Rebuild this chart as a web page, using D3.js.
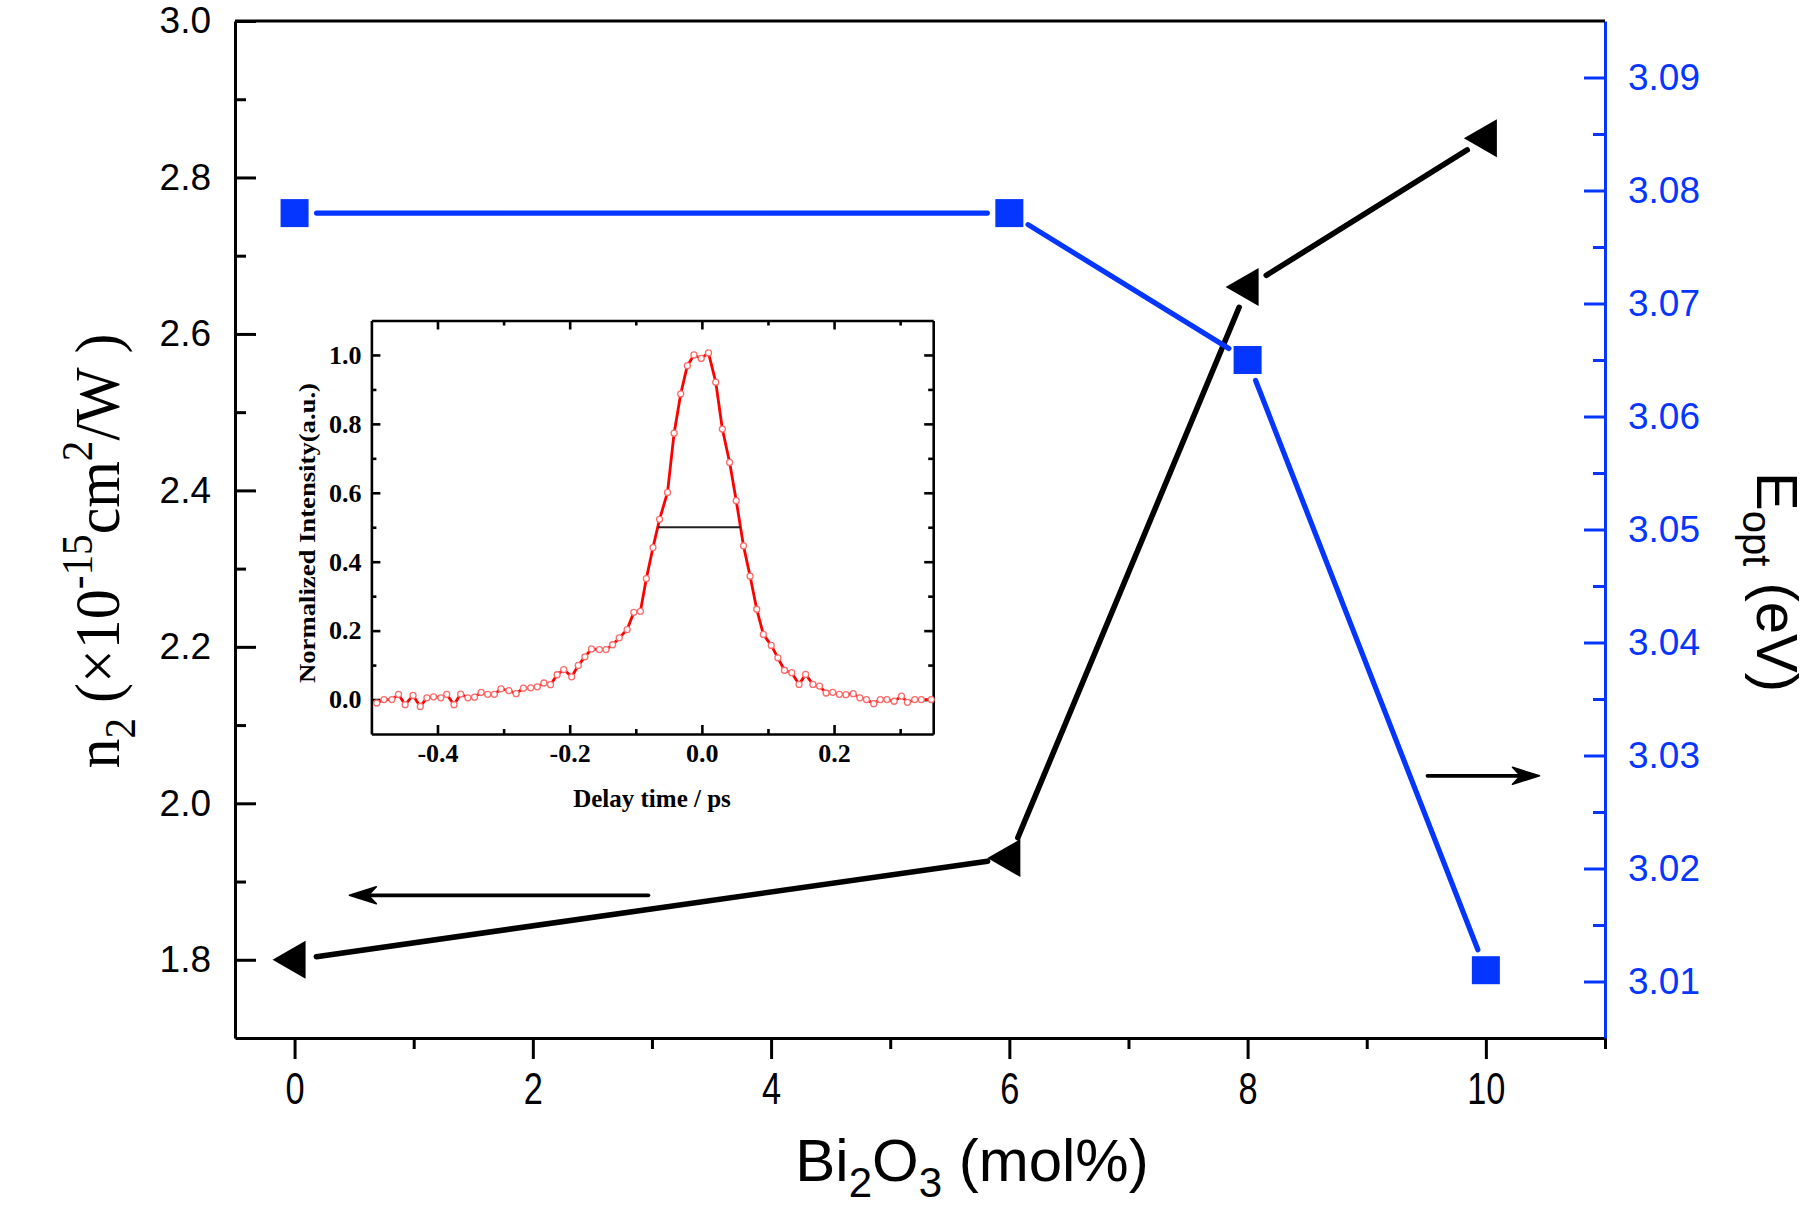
<!DOCTYPE html>
<html><head><meta charset="utf-8">
<script src="https://cdn.jsdelivr.net/npm/d3@7"></script>
<style>html,body{margin:0;padding:0;background:#fff;}svg{display:block;}</style>
</head><body>
<script>
// ---------- data ----------
const bi2o3 = [0, 6, 8, 10];
const n2Values = [1.80, 1.93, 2.66, 2.85];
const eoptValues = [3.078, 3.078, 3.065, 3.011];
const xMajorTicks = [0, 2, 4, 6, 8, 10];
const xMinorTicks = [1, 3, 5, 7, 9, 11];
const leftMajorTicks = [1.8, 2.0, 2.2, 2.4, 2.6, 2.8, 3.0];
const leftMinorTicks = [1.9, 2.1, 2.3, 2.5, 2.7, 2.9];
const rightMajorTicks = [3.01, 3.02, 3.03, 3.04, 3.05, 3.06, 3.07, 3.08, 3.09];
const rightMinorTicks = [3.015, 3.025, 3.035, 3.045, 3.055, 3.065, 3.075, 3.085];
// arrows pointing to the axis of each series (data units)
const leftArrow = {x1: 2.97, x2: 0.46, y: 1.8824};
const rightArrow = {x1: 9.51, x2: 10.45, y: 3.0282};

// inset: autocorrelation trace
const delayTime = [-0.492,-0.481,-0.469,-0.459,-0.449,-0.437,-0.426,-0.416,-0.406,-0.395,-0.386,-0.375,-0.365,-0.354,-0.344,-0.334,-0.324,-0.314,-0.304,-0.292,-0.281,-0.270,-0.259,-0.249,-0.239,-0.229,-0.219,-0.209,-0.197,-0.187,-0.177,-0.167,-0.155,-0.145,-0.135,-0.125,-0.113,-0.103,-0.093,-0.084,-0.074,-0.064,-0.052,-0.042,-0.032,-0.022,-0.012,-0.001,0.010,0.021,0.031,0.042,0.052,0.063,0.073,0.083,0.093,0.105,0.115,0.125,0.136,0.147,0.157,0.168,0.178,0.188,0.198,0.208,0.218,0.229,0.239,0.249,0.260,0.270,0.280,0.291,0.302,0.311,0.322,0.332,0.347];
const intensity = [-0.010,0.000,0.000,0.015,-0.015,0.012,-0.020,0.005,0.008,0.005,0.015,-0.015,0.016,0.005,0.007,0.021,0.015,0.015,0.031,0.026,0.017,0.033,0.034,0.037,0.048,0.043,0.072,0.087,0.066,0.099,0.124,0.147,0.145,0.145,0.159,0.179,0.203,0.253,0.256,0.351,0.441,0.523,0.601,0.773,0.887,0.969,1.000,0.990,1.006,0.921,0.785,0.688,0.577,0.446,0.358,0.262,0.189,0.157,0.121,0.085,0.078,0.044,0.073,0.044,0.039,0.019,0.021,0.015,0.014,0.017,0.005,0.000,-0.012,0.000,0.000,-0.005,0.010,-0.008,0.000,0.000,0.000];
const insetXMajor = [-0.4, -0.2, 0.0, 0.2];
const insetXLabels = ["-0.4", "-0.2", "0.0", "0.2"];
const insetXMinor = [-0.3, -0.1, 0.1, 0.3];
const insetYMajor = [0.0, 0.2, 0.4, 0.6, 0.8, 1.0];
const insetYLabels = ["0.0", "0.2", "0.4", "0.6", "0.8", "1.0"];
const insetYMinor = [0.1, 0.3, 0.5, 0.7, 0.9];
const fwhmStart = -0.066, fwhmEnd = 0.058, fwhmLevel = 0.5;

// ---------- layout ----------
const W = 1820, H = 1210;
const BLUE = "#0536ff";
const SANS = "'Liberation Sans', Arial, Helvetica, sans-serif";
const SERIF = "'Liberation Serif', 'Times New Roman', Times, serif";

const svg = d3.select("body").append("svg").attr("width", W).attr("height", H)
  .attr("viewBox", `0 0 ${W} ${H}`);

const x = d3.scaleLinear().domain([-0.5, 11]).range([235, 1605]);
const yL = d3.scaleLinear().domain([1.7, 3.0]).range([1038, 21]);
const yR = d3.scaleLinear().domain([3.005, 3.095]).range([1038, 21]);

// ---------- axes ----------
const gBottom = svg.append("g").attr("transform", `translate(0,${yL.range()[0]})`)
  .call(d3.axisBottom(x).tickValues(xMajorTicks).tickFormat((d, i) => xMajorTicks.map(String)[i])
    .tickSizeInner(21).tickSizeOuter(0).tickPadding(14));
svg.append("g").attr("transform", `translate(0,${yL.range()[0]})`)
  .call(d3.axisBottom(x).tickValues(xMinorTicks).tickFormat("").tickSizeInner(11).tickSizeOuter(0))
  .call(g => g.select(".domain").remove());
gBottom.selectAll("text").attr("font-size", 44).attr("font-family", SANS).attr("fill", "#000")
  .attr("transform", "scale(0.78,1)");

const gLeft = svg.append("g").attr("transform", `translate(${x.range()[0]},0)`)
  .call(d3.axisLeft(yL).tickValues(leftMajorTicks).tickFormat(d3.format(".1f"))
    .tickSizeInner(-21).tickSizeOuter(0).tickPadding(24));
svg.append("g").attr("transform", `translate(${x.range()[0]},0)`)
  .call(d3.axisLeft(yL).tickValues(leftMinorTicks).tickFormat("").tickSizeInner(-11).tickSizeOuter(0))
  .call(g => g.select(".domain").remove());
gLeft.selectAll("text").attr("font-size", 37).attr("font-family", SANS).attr("fill", "#000");

const gRight = svg.append("g").attr("transform", `translate(${x.range()[1]},0)`)
  .call(d3.axisRight(yR).tickValues(rightMajorTicks).tickFormat(d3.format(".2f"))
    .tickSizeInner(-21).tickSizeOuter(0).tickPadding(23));
const gRightMinor = svg.append("g").attr("transform", `translate(${x.range()[1]},0)`)
  .call(d3.axisRight(yR).tickValues(rightMinorTicks).tickFormat("").tickSizeInner(-12).tickSizeOuter(0));
gRightMinor.select(".domain").remove();
gRight.selectAll("text").attr("font-size", 37).attr("font-family", SANS).attr("fill", BLUE);
gRight.selectAll("line").attr("stroke", BLUE);
gRightMinor.selectAll("line").attr("stroke", BLUE);
gRight.select(".domain").attr("stroke", BLUE);

// top frame line
svg.append("line").attr("x1", x.range()[0]).attr("x2", x.range()[1])
  .attr("y1", yL.range()[1]).attr("y2", yL.range()[1]).attr("stroke", "#000");

svg.selectAll(".domain").attr("stroke-width", 3);
svg.selectAll(".tick line").attr("stroke-width", 3);
svg.selectAll("line").filter(function(){ return !this.closest(".tick"); }).attr("stroke-width", 3);

// ---------- series ----------
function gappedSegments(xs, ys, sy, gap) {
  const pts = xs.map((d, i) => [x(d), sy(ys[i])]);
  const out = [];
  for (let i = 0; i < pts.length - 1; i++) {
    const [x1, y1] = pts[i], [x2, y2] = pts[i + 1];
    const L = Math.hypot(x2 - x1, y2 - y1), ux = (x2 - x1) / L, uy = (y2 - y1) / L;
    out.push([x1 + ux * gap, y1 + uy * gap, x2 - ux * gap, y2 - uy * gap]);
  }
  return out;
}

// n2 (black, left-pointing triangles)
svg.append("g").selectAll("line").data(gappedSegments(bi2o3, n2Values, yL, 22)).join("line")
  .attr("x1", d => d[0]).attr("y1", d => d[1]).attr("x2", d => d[2]).attr("y2", d => d[3])
  .attr("stroke", "#000").attr("stroke-width", 5.6).attr("stroke-linecap", "round");
svg.append("g").selectAll("path").data(bi2o3).join("path")
  .attr("transform", (d, i) => `translate(${x(d)},${yL(n2Values[i])})`)
  .attr("d", "M-22,0 L11,-19 L11,19 Z").attr("fill", "#000");

// Eopt (blue squares)
svg.append("g").selectAll("line").data(gappedSegments(bi2o3, eoptValues, yR, 22)).join("line")
  .attr("x1", d => d[0]).attr("y1", d => d[1]).attr("x2", d => d[2]).attr("y2", d => d[3])
  .attr("stroke", BLUE).attr("stroke-width", 5.2).attr("stroke-linecap", "round");
svg.append("g").selectAll("rect").data(bi2o3).join("rect")
  .attr("x", d => x(d) - 14).attr("y", (d, i) => yR(eoptValues[i]) - 14)
  .attr("width", 28).attr("height", 28).attr("fill", BLUE);

// arrows
function arrow(x1, x2, yPix) {
  const dir = Math.sign(x2 - x1);
  const tip = x(x2);
  svg.append("line").attr("x1", x(x1)).attr("x2", tip - dir * 16).attr("y1", yPix).attr("y2", yPix)
    .attr("stroke", "#000").attr("stroke-width", 3.8).attr("stroke-linecap", "round");
  svg.append("path").attr("transform", `translate(${tip},${yPix}) scale(${dir},1)`)
    .attr("d", "M0,0 L-27,-8.5 L-19,0 L-27,8.5 Z").attr("fill", "#000")
    .attr("stroke", "#000").attr("stroke-width", 1.5).attr("stroke-linejoin", "round");
}
arrow(leftArrow.x1, leftArrow.x2, yL(leftArrow.y));
arrow(rightArrow.x1, rightArrow.x2, yR(rightArrow.y));

// ---------- axis titles ----------
const lt = svg.append("text").attr("transform", "translate(119,551) rotate(-90)")
  .attr("text-anchor", "middle").attr("font-family", SERIF).attr("font-size", 64).attr("fill", "#000")
  .attr("textLength", 435).attr("lengthAdjust", "spacingAndGlyphs");
lt.append("tspan").text("n");
lt.append("tspan").attr("font-size", 44).attr("dy", 16).text("2");
lt.append("tspan").attr("dy", -16).text(" (\u00d710");
lt.append("tspan").attr("font-size", 44).attr("dy", -27).text("-15");
lt.append("tspan").attr("dy", 27).text("cm");
lt.append("tspan").attr("font-size", 44).attr("dy", -27).text("2");
lt.append("tspan").attr("dy", 27).text("/W )");

const rt = svg.append("text").attr("transform", "translate(1757,582) rotate(90)")
  .attr("text-anchor", "middle").attr("font-family", SANS).attr("font-size", 58).attr("fill", "#000");
rt.append("tspan").text("E");
rt.append("tspan").attr("font-size", 40).attr("dy", 14).text("opt");
rt.append("tspan").attr("dy", -14).text(" (eV)");

const bt = svg.append("text").attr("x", 972).attr("y", 1181)
  .attr("text-anchor", "middle").attr("font-family", SANS).attr("font-size", 60).attr("fill", "#000");
bt.append("tspan").text("Bi");
bt.append("tspan").attr("font-size", 42).attr("dy", 16).text("2");
bt.append("tspan").attr("dy", -16).text("O");
bt.append("tspan").attr("font-size", 42).attr("dy", 16).text("3");
bt.append("tspan").attr("dy", -16).text(" (mol%)");

// ---------- inset ----------
const ix = d3.scaleLinear().domain([-0.5, 0.35]).range([371.4, 933.2]);
const iy = d3.scaleLinear().domain([-0.1, 1.1]).range([734, 320.5]);
const inset = svg.append("g");
inset.append("rect").attr("x", ix.range()[0]).attr("y", iy.range()[1])
  .attr("width", ix.range()[1] - ix.range()[0]).attr("height", iy.range()[0] - iy.range()[1])
  .attr("fill", "#fff").attr("stroke", "none");

function insetAxis(axisFn, scale, ticks, size, transform, labels) {
  const a = axisFn(scale).tickValues(ticks).tickSizeInner(-size).tickSizeOuter(0)
    .tickFormat(labels ? (d, i) => labels[i] : "").tickPadding(labels ? 10 : 0);
  const g = inset.append("g").attr("transform", transform).call(a);
  g.select(".domain").attr("stroke-width", 2.6);
  g.selectAll(".tick line").attr("stroke-width", 2.6);
  g.selectAll("text").attr("font-family", SERIF).attr("font-weight", "bold").attr("font-size", 26).attr("fill", "#000");
  return g;
}
const ib = `translate(0,${iy.range()[0]})`, itp = `translate(0,${iy.range()[1]})`;
const il = `translate(${ix.range()[0]},0)`, ir = `translate(${ix.range()[1]},0)`;
insetAxis(d3.axisBottom, ix, insetXMajor, 9, ib, insetXLabels);
insetAxis(d3.axisBottom, ix, insetXMinor, 5, ib, null).select(".domain").remove();
insetAxis(d3.axisTop, ix, insetXMajor, 9, itp, null);
insetAxis(d3.axisTop, ix, insetXMinor, 5, itp, null).select(".domain").remove();
insetAxis(d3.axisLeft, iy, insetYMajor, 9, il, insetYLabels);
insetAxis(d3.axisLeft, iy, insetYMinor, 5, il, null).select(".domain").remove();
insetAxis(d3.axisRight, iy, insetYMajor, 9, ir, null);
insetAxis(d3.axisRight, iy, insetYMinor, 5, ir, null).select(".domain").remove();

const trace = delayTime.map((t, i) => [t, intensity[i]]);
inset.append("path").datum(trace)
  .attr("d", d3.line().x(d => ix(d[0])).y(d => iy(d[1])))
  .attr("fill", "none").attr("stroke", "#ff0000").attr("stroke-width", 2.8).attr("stroke-linejoin", "round");
inset.append("g").selectAll("circle").data(trace).join("circle")
  .attr("cx", d => ix(d[0])).attr("cy", d => iy(d[1])).attr("r", 3)
  .attr("fill", "#fff").attr("stroke", "#ff6a6a").attr("stroke-width", 1.3);
inset.append("line").attr("x1", ix(fwhmStart)).attr("x2", ix(fwhmEnd))
  .attr("y1", iy(fwhmLevel)).attr("y2", iy(fwhmLevel)).attr("stroke", "#222").attr("stroke-width", 2);

inset.append("text").attr("transform", "translate(315,533) rotate(-90)").attr("text-anchor", "middle")
  .attr("font-family", SERIF).attr("font-weight", "bold").attr("font-size", 24)
  .attr("textLength", 300).attr("lengthAdjust", "spacingAndGlyphs")
  .text("Normalized Intensity(a.u.)");
inset.append("text").attr("x", 652).attr("y", 807).attr("text-anchor", "middle")
  .attr("font-family", SERIF).attr("font-weight", "bold").attr("font-size", 25)
  .text("Delay time / ps");
</script>
</body></html>
